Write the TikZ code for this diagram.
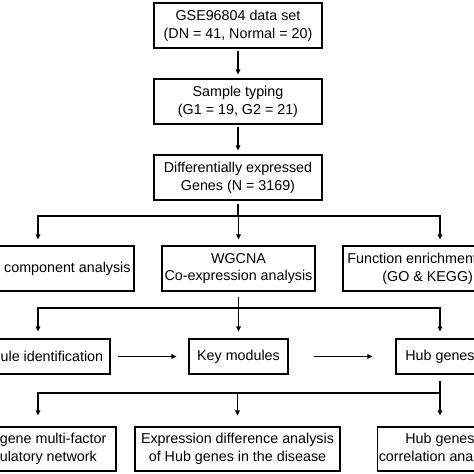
\documentclass[tikz,border=0pt]{standalone}
\usepackage{fontspec}
\setmainfont{Liberation Sans}
\usetikzlibrary{arrows.meta}
\begin{document}
\begin{tikzpicture}[x=1pt,y=-1pt,
  box/.style={draw,line width=1.1pt,align=center,inner sep=1pt,font=\fontsize{14.3}{17.7}\selectfont},
  line/.style={line width=1.1pt},
  arr/.style={line width=1.1pt,-{Triangle[length=5pt,width=4.5pt]}}]
\useasboundingbox (0,0) rectangle (474,474);
\clip (0,0) rectangle (474,474);
\fill[white] (0,0) rectangle (474,474);
% row 1-3
\node[box,minimum width=168pt,minimum height=45pt] (b1) at (238,25.5) {GSE96804 data set\\(DN = 41, Normal = 20)};
\node[box,minimum width=168pt,minimum height=45pt] (b2) at (238,101.5) {Sample typing\\(G1 = 19, G2 = 21)};
\node[box,minimum width=168pt,minimum height=45pt] (b3) at (238,177.5) {Differentially expressed\\Genes (N = 3169)};
% row 4
\node[box,minimum width=192pt,minimum height=45pt] (r4l) at (38,268.5) {Principal component analysis};
\node[box,minimum width=153pt,minimum height=45pt] (r4m) at (238.5,268.5) {WGCNA\\Co-expression analysis};
\node[box,minimum width=194pt,minimum height=45pt,align=left] (r4r) at (440,268.5) {Function enrichment analysis\\\hspace*{35pt}(GO \& KEGG)};
% row 5
\node[box,minimum width=144pt,minimum height=35pt] (r5l) at (38,356.5) {Module identification};
\node[box,minimum width=99pt,minimum height=35pt] (r5m) at (238.5,356.5) {Key modules};
\node[box,minimum width=88pt,minimum height=35pt] (r5r) at (440,356.5) {Hub genes};
% row 6
\node[box,minimum width=156pt,minimum height=44pt] (r6l) at (38,449) {Hub gene multi-factor\\regulatory network};
\node[box,minimum width=205pt,minimum height=44pt] (r6m) at (237.5,449) {Expression difference analysis\\of Hub genes in the disease};
\node[box,minimum width=120pt,minimum height=44pt] (r6r) at (440,449) {Hub genes\\correlation analysis};
% junctions
\coordinate (j1) at (238,216);
\coordinate (j2) at (238.5,308);
\coordinate (j3) at (440,393);
% connectors
\draw[arr,shorten <=2pt,shorten >=4pt] (b1) -- (b2);
\draw[arr,shorten <=2pt,shorten >=4pt] (b2) -- (b3);
\draw[line,shorten <=3pt] (b3.south) -- (j1);
\draw[arr,shorten >=6pt] (j1) -| (r4l.north);
\draw[arr,shorten >=6pt] (j1) -| (r4r.north);
\draw[arr,shorten >=6pt] (j1) -- (j1 -| r4m.north) -- (r4m.north);
\draw[line,shorten <=5pt] (r4m.south) -- (j2);
\draw[arr,shorten >=7pt] (j2) -| (r5l.north);
\draw[arr,shorten >=7pt] (j2) -| (r5r.north);
\draw[arr,shorten >=7pt] (j2) -- (r5m.north);
\draw[arr,shorten <=7pt,shorten >=12pt] (r5l.east) -- (r5m.west);
\draw[arr,shorten <=25pt,shorten >=23pt] (r5m.east) -- (r5r.west);
\draw[line,shorten <=6pt] (r5r.south) -- (j3);
\draw[arr,shorten >=11pt] (j3) -- (r6r.north);
\draw[arr,shorten >=11pt] (j3) -| (r6l.north);
\draw[arr,shorten >=11pt] (j3 -| r6m.north) -- (r6m.north);
\end{tikzpicture}
\end{document}
